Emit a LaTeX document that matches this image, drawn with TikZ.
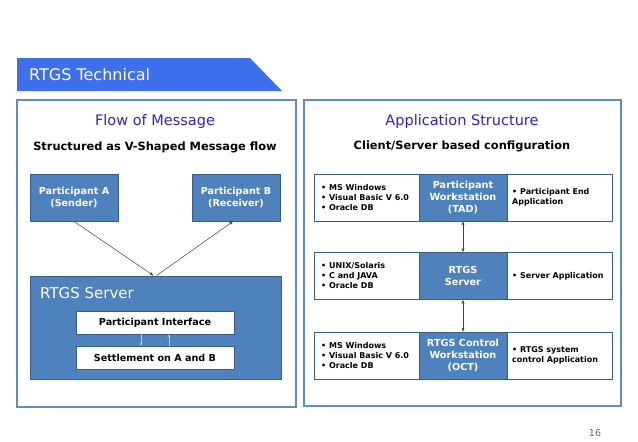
\documentclass[tikz,border=0pt]{standalone}
\usepackage{fontspec}
\setmainfont{DejaVu Sans}
\usetikzlibrary{arrows.meta}
\definecolor{banner}{RGB}{62,112,235}
\definecolor{boxblue}{RGB}{79,129,189}
\definecolor{boxedge}{RGB}{56,93,138}
\definecolor{panel}{RGB}{96,140,196}
\definecolor{headblue}{RGB}{40,40,195}
\definecolor{lightarrow}{RGB}{170,215,240}
\newcommand{\fs}[2]{\fontsize{#1}{#2}\selectfont}
\begin{document}
\begin{tikzpicture}[x=1pt,y=-1pt,
  panelbox/.style={draw=panel,line width=1.2pt,fill=white},
  bluebox/.style={draw=boxedge,line width=0.8pt,fill=boxblue,text=white,font=\bfseries\fs{9.6}{12},align=center,inner sep=0pt},
  whitebox/.style={draw=boxedge,line width=0.8pt,fill=white,text=black,font=\bfseries\fs{9.6}{12},align=center,inner sep=0pt},
  cellw/.style={draw=boxedge,line width=0.8pt,fill=white,minimum width=105pt,minimum height=47pt,inner sep=0pt},
  cellb/.style={draw=boxedge,line width=0.8pt,fill=boxblue,text=white,font=\bfseries\fs{9.7}{12},align=center,minimum width=88pt,minimum height=47pt,inner sep=0pt},
  bullets/.style={anchor=west,align=left,font=\bfseries\fs{8}{10},inner sep=0pt},
  heading/.style={text=headblue,font=\fs{14.5}{17}},
  subhead/.style={text=black,font=\bfseries\fs{11.4}{13}},
  grayarrow/.style={draw=black!75,line width=0.5pt,-{Stealth[length=4pt,width=3pt]}},
  dblarrow/.style={draw=black!75,line width=0.5pt,{Stealth[length=4pt,width=3pt]}-{Stealth[length=4pt,width=3pt]}},
  lightarr/.style={draw=lightarrow,line width=0.9pt,-{Stealth[length=3pt,width=3pt]}}
]
\useasboundingbox (0,0) rectangle (638,442);
\fill[white] (0,0) rectangle (638,442);

% banner
\fill[banner] (17,58) -- (250,58) -- (282,91) -- (17,91) -- cycle;
\node[anchor=west,text=white,font=\fs{16}{18},inner sep=0pt] (title) at (29,75) {RTGS Technical};

% panels
\node[panelbox,minimum width=279pt,minimum height=307pt,inner sep=0pt] (lp) at (156.5,253.5) {};
\node[panelbox,minimum width=317pt,minimum height=306pt,inner sep=0pt] (rp) at (462.5,253) {};

% left panel
\node[heading] (fh) at (155,121) {Flow of Message};
\node[subhead] (fs) at (155,147) {Structured as V-Shaped Message flow};
\node[bluebox,minimum width=88pt,minimum height=47pt] (pa) at (74,197.5) {Participant A\\(Sender)};
\node[bluebox,minimum width=88pt,minimum height=47pt] (pb) at (236,197.5) {Participant B\\(Receiver)};
\node[draw=boxedge,line width=0.8pt,fill=boxblue,minimum width=251pt,minimum height=103pt,inner sep=0pt] (srv) at (155.5,327.5) {};
\node[anchor=west,text=white,font=\fs{15}{17},inner sep=0pt] (srvl) at (40,293) {RTGS Server};
\node[whitebox,minimum width=158pt,minimum height=23pt] (pi) at (155,322.5) {Participant Interface};
\node[whitebox,minimum width=158pt,minimum height=23pt] (set) at (155,357.5) {Settlement on A and B};

\draw[grayarrow] (pa.south) -- ([xshift=-2pt]srv.north);
\draw[grayarrow] ([xshift=1pt]srv.north) -- ([xshift=-3pt]pb.south);
\draw[lightarr] ([xshift=-14pt]pi.south) -- ([xshift=-14pt]set.north);
\draw[lightarr] ([xshift=14pt]set.north) -- ([xshift=14pt]pi.south);

% right panel
\node[heading] (ah) at (462,121) {Application Structure};
\node[subhead] (ahs) at (462,146) {Client/Server based configuration};

% row 1
\node[cellw] (l1) at (366.5,197.5) {};
\node[cellb] (c1) at (463,197.5) {Participant\\Workstation\\(TAD)};
\node[cellw] (r1) at (559.5,197.5) {};
\node[bullets] (l1t) at (321,197.5) {• MS Windows\\• Visual Basic V 6.0\\• Oracle DB};
\node[bullets] (r1t) at (512,197.5) {• Participant End\\Application};

% row 2
\node[cellw] (l2) at (366.5,276) {};
\node[cellb] (c2) at (463,276) {RTGS\\Server};
\node[cellw] (r2) at (559.5,276) {};
\node[bullets] (l2t) at (321,276) {• UNIX/Solaris\\• C and JAVA\\• Oracle DB};
\node[bullets] (r2t) at (512,276) {• Server Application};

% row 3
\node[cellw] (l3) at (366.5,355.5) {};
\node[cellb] (c3) at (463,355.5) {RTGS Control\\Workstation\\(OCT)};
\node[cellw] (r3) at (559.5,355.5) {};
\node[bullets] (l3t) at (321,355.5) {• MS Windows\\• Visual Basic V 6.0\\• Oracle DB};
\node[bullets] (r3t) at (512,355.5) {• RTGS system\\control Application};

\draw[dblarrow] (c1.south) -- (c2.north);
\draw[dblarrow] (c2.south) -- (c3.north);

% page number
\node[text=black!60,font=\fs{9.5}{11}] (pg) at (595,433) {16};
\end{tikzpicture}
\end{document}
